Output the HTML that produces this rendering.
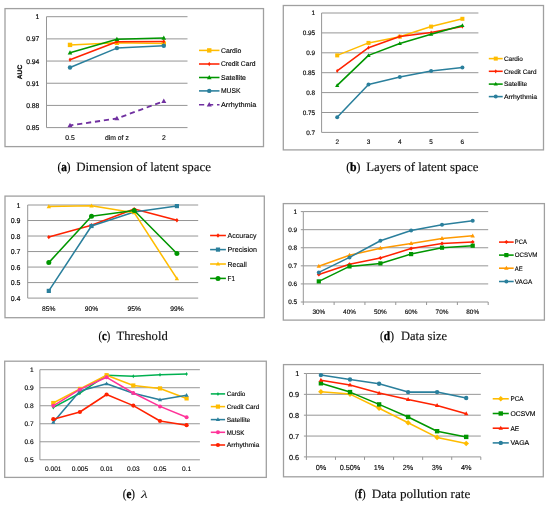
<!DOCTYPE html>
<html><head><meta charset="utf-8"><style>
html,body{margin:0;padding:0;background:#fff;}
svg{display:block;will-change:transform;text-rendering:geometricPrecision;}
#w{width:550px;height:505px;}
</style></head><body>
<div id="w"><svg width="550" height="505" viewBox="0 0 550 505">
<rect x="0" y="0" width="550" height="505" fill="#fff"/>
<g>
<rect x="5" y="8.6" width="258.5" height="138" fill="none" stroke="#A0A0A0" stroke-width="1.3"/>
<line x1="46.5" y1="16.7" x2="187.5" y2="16.7" stroke="#969696" stroke-width="1"/>
<text x="39.4" y="19.15" font-size="6.8" text-anchor="end" fill="#000" stroke="#000" stroke-width="0.15" font-family='"Liberation Sans", sans-serif'>1</text>
<line x1="46.5" y1="38.88" x2="187.5" y2="38.88" stroke="#969696" stroke-width="1"/>
<text x="39.4" y="41.33" font-size="6.8" text-anchor="end" fill="#000" stroke="#000" stroke-width="0.15" font-family='"Liberation Sans", sans-serif'>0.97</text>
<line x1="46.5" y1="61.06" x2="187.5" y2="61.06" stroke="#969696" stroke-width="1"/>
<text x="39.4" y="63.51" font-size="6.8" text-anchor="end" fill="#000" stroke="#000" stroke-width="0.15" font-family='"Liberation Sans", sans-serif'>0.94</text>
<line x1="46.5" y1="83.24" x2="187.5" y2="83.24" stroke="#969696" stroke-width="1"/>
<text x="39.4" y="85.69" font-size="6.8" text-anchor="end" fill="#000" stroke="#000" stroke-width="0.15" font-family='"Liberation Sans", sans-serif'>0.91</text>
<line x1="46.5" y1="105.42" x2="187.5" y2="105.42" stroke="#969696" stroke-width="1"/>
<text x="39.4" y="107.87" font-size="6.8" text-anchor="end" fill="#000" stroke="#000" stroke-width="0.15" font-family='"Liberation Sans", sans-serif'>0.88</text>
<text x="39.4" y="130.05" font-size="6.8" text-anchor="end" fill="#000" stroke="#000" stroke-width="0.15" font-family='"Liberation Sans", sans-serif'>0.85</text>
<line x1="46.5" y1="16.7" x2="46.5" y2="127.6" stroke="#969696" stroke-width="1"/>
<line x1="46.5" y1="127.6" x2="187.5" y2="127.6" stroke="#969696" stroke-width="1"/>
<text x="70" y="140.05" font-size="6.8" text-anchor="middle" fill="#000" stroke="#000" stroke-width="0.12" font-family='"Liberation Sans", sans-serif'>0.5</text>
<text x="116.9" y="140.05" font-size="6.8" text-anchor="middle" fill="#000" stroke="#000" stroke-width="0.12" font-family='"Liberation Sans", sans-serif'>dim of z</text>
<text x="163.8" y="140.05" font-size="6.8" text-anchor="middle" fill="#000" stroke="#000" stroke-width="0.12" font-family='"Liberation Sans", sans-serif'>2</text>
<text x="0" y="0" font-size="6.6" font-weight="bold" text-anchor="middle" stroke="#000" stroke-width="0.2" fill="#000" font-family='"Liberation Sans", sans-serif' transform="translate(22 72) rotate(-90)">AUC</text>
<polyline points="70,44.9 116.9,42.8 163.8,43.6" fill="none" stroke="#FFBC00" stroke-width="1.55" stroke-linejoin="round"/>
<rect x="67.8" y="42.7" width="4.4" height="4.4" fill="#FFBC00"/>
<rect x="114.7" y="40.6" width="4.4" height="4.4" fill="#FFBC00"/>
<rect x="161.6" y="41.4" width="4.4" height="4.4" fill="#FFBC00"/>
<polyline points="70,59.8 116.9,41.8 163.8,41.4" fill="none" stroke="#FF2200" stroke-width="1.55" stroke-linejoin="round"/>
<path d="M70 57.5L71.38 59.8L70 62.1L68.62 59.8Z" fill="#FF2200"/>
<path d="M116.9 39.5L118.28 41.8L116.9 44.1L115.52 41.8Z" fill="#FF2200"/>
<path d="M163.8 39.1L165.18 41.4L163.8 43.7L162.42 41.4Z" fill="#FF2200"/>
<polyline points="70,52.8 116.9,39.3 163.8,38.1" fill="none" stroke="#009600" stroke-width="1.55" stroke-linejoin="round"/>
<path d="M70 50.32L72.3 54.46L67.7 54.46Z" fill="#009600"/>
<path d="M116.9 36.82L119.2 40.96L114.6 40.96Z" fill="#009600"/>
<path d="M163.8 35.62L166.1 39.76L161.5 39.76Z" fill="#009600"/>
<polyline points="70,67.5 116.9,48.1 163.8,45.7" fill="none" stroke="#2A7F9C" stroke-width="1.55" stroke-linejoin="round"/>
<circle cx="70" cy="67.5" r="2.2" fill="#2A7F9C"/>
<circle cx="116.9" cy="48.1" r="2.2" fill="#2A7F9C"/>
<circle cx="163.8" cy="45.7" r="2.2" fill="#2A7F9C"/>
<polyline points="70,125.4 116.9,118.5 163.8,101.2" fill="none" stroke="#7030A0" stroke-width="1.85" stroke-linejoin="round" stroke-dasharray="5.2,3.8" stroke-dashoffset="1.8"/>
<path d="M70 122.7L72.5 127.2L67.5 127.2Z" fill="#7030A0"/>
<path d="M116.9 115.8L119.4 120.3L114.4 120.3Z" fill="#7030A0"/>
<path d="M163.8 98.5L166.3 103L161.3 103Z" fill="#7030A0"/>
<line x1="199" y1="50.4" x2="219.5" y2="50.4" stroke="#FFBC00" stroke-width="1.55"/>
<rect x="207.05" y="48.2" width="4.4" height="4.4" fill="#FFBC00"/>
<text x="221" y="52.85" font-size="6.8" text-anchor="start" fill="#000" stroke="#000" stroke-width="0.12" font-family='"Liberation Sans", sans-serif' textLength="20.3" lengthAdjust="spacingAndGlyphs">Cardio</text>
<line x1="199" y1="64" x2="219.5" y2="64" stroke="#FF2200" stroke-width="1.55"/>
<path d="M209.25 61.7L210.63 64L209.25 66.3L207.87 64Z" fill="#FF2200"/>
<text x="221" y="66.45" font-size="6.8" text-anchor="start" fill="#000" stroke="#000" stroke-width="0.12" font-family='"Liberation Sans", sans-serif' textLength="34.5" lengthAdjust="spacingAndGlyphs">Credit Card</text>
<line x1="199" y1="77.5" x2="219.5" y2="77.5" stroke="#009600" stroke-width="1.55"/>
<path d="M209.25 75.02L211.55 79.16L206.95 79.16Z" fill="#009600"/>
<text x="221" y="79.95" font-size="6.8" text-anchor="start" fill="#000" stroke="#000" stroke-width="0.12" font-family='"Liberation Sans", sans-serif' textLength="25" lengthAdjust="spacingAndGlyphs">Satellite</text>
<line x1="199" y1="90.9" x2="219.5" y2="90.9" stroke="#2A7F9C" stroke-width="1.55"/>
<circle cx="209.25" cy="90.9" r="2.2" fill="#2A7F9C"/>
<text x="221" y="93.35" font-size="6.8" text-anchor="start" fill="#000" stroke="#000" stroke-width="0.12" font-family='"Liberation Sans", sans-serif' textLength="19.5" lengthAdjust="spacingAndGlyphs">MUSK</text>
<line x1="199" y1="104.7" x2="219.5" y2="104.7" stroke="#7030A0" stroke-width="1.55" stroke-dasharray="5.2,3.8"/>
<path d="M209.25 102L211.75 106.5L206.75 106.5Z" fill="#7030A0"/>
<text x="221" y="107.15" font-size="6.8" text-anchor="start" fill="#000" stroke="#000" stroke-width="0.12" font-family='"Liberation Sans", sans-serif' textLength="35.3" lengthAdjust="spacingAndGlyphs">Arrhythmia</text>
<text x="57.4" y="170.8" font-size="12.8" fill="#000" stroke="#000" stroke-width="0.15" font-family='"Liberation Serif", serif' textLength="13.1" lengthAdjust="spacingAndGlyphs">(<tspan font-weight="bold" stroke-width="0.35">a</tspan>)</text>
<text x="76.2" y="170.8" font-size="12.8" fill="#111" stroke="#111" stroke-width="0.15" font-family='"Liberation Serif", serif' textLength="134.7" lengthAdjust="spacingAndGlyphs">Dimension of latent space</text>
<rect x="283.3" y="5.5" width="260.2" height="144.4" fill="none" stroke="#A0A0A0" stroke-width="1.3"/>
<line x1="321.6" y1="13" x2="478.4" y2="13" stroke="#969696" stroke-width="1"/>
<text x="315.1" y="15.3" font-size="6.4" text-anchor="end" fill="#000" stroke="#000" stroke-width="0.15" font-family='"Liberation Sans", sans-serif'>1</text>
<line x1="321.6" y1="32.9" x2="478.4" y2="32.9" stroke="#969696" stroke-width="1"/>
<text x="315.1" y="35.2" font-size="6.4" text-anchor="end" fill="#000" stroke="#000" stroke-width="0.15" font-family='"Liberation Sans", sans-serif'>0.95</text>
<line x1="321.6" y1="52.8" x2="478.4" y2="52.8" stroke="#969696" stroke-width="1"/>
<text x="315.1" y="55.1" font-size="6.4" text-anchor="end" fill="#000" stroke="#000" stroke-width="0.15" font-family='"Liberation Sans", sans-serif'>0.9</text>
<line x1="321.6" y1="72.7" x2="478.4" y2="72.7" stroke="#969696" stroke-width="1"/>
<text x="315.1" y="75" font-size="6.4" text-anchor="end" fill="#000" stroke="#000" stroke-width="0.15" font-family='"Liberation Sans", sans-serif'>0.85</text>
<line x1="321.6" y1="92.6" x2="478.4" y2="92.6" stroke="#969696" stroke-width="1"/>
<text x="315.1" y="94.9" font-size="6.4" text-anchor="end" fill="#000" stroke="#000" stroke-width="0.15" font-family='"Liberation Sans", sans-serif'>0.8</text>
<line x1="321.6" y1="112.5" x2="478.4" y2="112.5" stroke="#969696" stroke-width="1"/>
<text x="315.1" y="114.8" font-size="6.4" text-anchor="end" fill="#000" stroke="#000" stroke-width="0.15" font-family='"Liberation Sans", sans-serif'>0.75</text>
<text x="315.1" y="134.7" font-size="6.4" text-anchor="end" fill="#000" stroke="#000" stroke-width="0.15" font-family='"Liberation Sans", sans-serif'>0.7</text>
<line x1="321.6" y1="13" x2="321.6" y2="132.4" stroke="#969696" stroke-width="1"/>
<line x1="321.6" y1="132.4" x2="478.4" y2="132.4" stroke="#969696" stroke-width="1"/>
<text x="337.2" y="143.8" font-size="6.4" text-anchor="middle" fill="#000" stroke="#000" stroke-width="0.12" font-family='"Liberation Sans", sans-serif'>2</text>
<text x="368.5" y="143.8" font-size="6.4" text-anchor="middle" fill="#000" stroke="#000" stroke-width="0.12" font-family='"Liberation Sans", sans-serif'>3</text>
<text x="399.8" y="143.8" font-size="6.4" text-anchor="middle" fill="#000" stroke="#000" stroke-width="0.12" font-family='"Liberation Sans", sans-serif'>4</text>
<text x="431.1" y="143.8" font-size="6.4" text-anchor="middle" fill="#000" stroke="#000" stroke-width="0.12" font-family='"Liberation Sans", sans-serif'>5</text>
<text x="462.4" y="143.8" font-size="6.4" text-anchor="middle" fill="#000" stroke="#000" stroke-width="0.12" font-family='"Liberation Sans", sans-serif'>6</text>
<polyline points="337.2,55.4 368.5,42.9 399.8,36.7 431.1,26.6 462.4,18.8" fill="none" stroke="#FFBC00" stroke-width="1.55" stroke-linejoin="round"/>
<rect x="335.2" y="53.4" width="4" height="4" fill="#FFBC00"/>
<rect x="366.5" y="40.9" width="4" height="4" fill="#FFBC00"/>
<rect x="397.8" y="34.7" width="4" height="4" fill="#FFBC00"/>
<rect x="429.1" y="24.6" width="4" height="4" fill="#FFBC00"/>
<rect x="460.4" y="16.8" width="4" height="4" fill="#FFBC00"/>
<polyline points="337.2,70.9 368.5,47.7 399.8,36.4 431.1,32.5 462.4,26.6" fill="none" stroke="#FF2200" stroke-width="1.55" stroke-linejoin="round"/>
<path d="M337.2 68.8L338.46 70.9L337.2 73L335.94 70.9Z" fill="#FF2200"/>
<path d="M368.5 45.6L369.76 47.7L368.5 49.8L367.24 47.7Z" fill="#FF2200"/>
<path d="M399.8 34.3L401.06 36.4L399.8 38.5L398.54 36.4Z" fill="#FF2200"/>
<path d="M431.1 30.4L432.36 32.5L431.1 34.6L429.84 32.5Z" fill="#FF2200"/>
<path d="M462.4 24.5L463.66 26.6L462.4 28.7L461.14 26.6Z" fill="#FF2200"/>
<polyline points="337.2,85.4 368.5,55.4 399.8,43.5 431.1,34.3 462.4,25.4" fill="none" stroke="#009600" stroke-width="1.55" stroke-linejoin="round"/>
<path d="M337.2 83.13L339.3 86.91L335.1 86.91Z" fill="#009600"/>
<path d="M368.5 53.13L370.6 56.91L366.4 56.91Z" fill="#009600"/>
<path d="M399.8 41.23L401.9 45.01L397.7 45.01Z" fill="#009600"/>
<path d="M431.1 32.03L433.2 35.81L429 35.81Z" fill="#009600"/>
<path d="M462.4 23.13L464.5 26.91L460.3 26.91Z" fill="#009600"/>
<polyline points="337.2,117.2 368.5,84.5 399.8,77.1 431.1,70.9 462.4,67.6" fill="none" stroke="#2A7F9C" stroke-width="1.55" stroke-linejoin="round"/>
<circle cx="337.2" cy="117.2" r="2" fill="#2A7F9C"/>
<circle cx="368.5" cy="84.5" r="2" fill="#2A7F9C"/>
<circle cx="399.8" cy="77.1" r="2" fill="#2A7F9C"/>
<circle cx="431.1" cy="70.9" r="2" fill="#2A7F9C"/>
<circle cx="462.4" cy="67.6" r="2" fill="#2A7F9C"/>
<line x1="488.8" y1="58.6" x2="502.7" y2="58.6" stroke="#FFBC00" stroke-width="1.55"/>
<rect x="493.75" y="56.6" width="4" height="4" fill="#FFBC00"/>
<text x="503.9" y="60.9" font-size="6.4" text-anchor="start" fill="#000" stroke="#000" stroke-width="0.12" font-family='"Liberation Sans", sans-serif' textLength="19" lengthAdjust="spacingAndGlyphs">Cardio</text>
<line x1="488.8" y1="71.3" x2="502.7" y2="71.3" stroke="#FF2200" stroke-width="1.55"/>
<path d="M495.75 69.2L497.01 71.3L495.75 73.4L494.49 71.3Z" fill="#FF2200"/>
<text x="503.9" y="73.6" font-size="6.4" text-anchor="start" fill="#000" stroke="#000" stroke-width="0.12" font-family='"Liberation Sans", sans-serif' textLength="32.6" lengthAdjust="spacingAndGlyphs">Credit Card</text>
<line x1="488.8" y1="84.1" x2="502.7" y2="84.1" stroke="#009600" stroke-width="1.55"/>
<path d="M495.75 81.83L497.85 85.61L493.65 85.61Z" fill="#009600"/>
<text x="503.9" y="86.4" font-size="6.4" text-anchor="start" fill="#000" stroke="#000" stroke-width="0.12" font-family='"Liberation Sans", sans-serif' textLength="23.4" lengthAdjust="spacingAndGlyphs">Satellite</text>
<line x1="488.8" y1="96.6" x2="502.7" y2="96.6" stroke="#2A7F9C" stroke-width="1.55"/>
<circle cx="495.75" cy="96.6" r="2" fill="#2A7F9C"/>
<text x="503.9" y="98.9" font-size="6.4" text-anchor="start" fill="#000" stroke="#000" stroke-width="0.12" font-family='"Liberation Sans", sans-serif' textLength="33.2" lengthAdjust="spacingAndGlyphs">Arrhythmia</text>
<text x="346.2" y="171.2" font-size="12.8" fill="#000" stroke="#000" stroke-width="0.15" font-family='"Liberation Serif", serif' textLength="14.3" lengthAdjust="spacingAndGlyphs">(<tspan font-weight="bold" stroke-width="0.35">b</tspan>)</text>
<text x="366.2" y="171.2" font-size="12.8" fill="#111" stroke="#111" stroke-width="0.15" font-family='"Liberation Serif", serif' textLength="112.2" lengthAdjust="spacingAndGlyphs">Layers of latent space</text>
<rect x="5" y="196.1" width="259.3" height="121.6" fill="none" stroke="#A0A0A0" stroke-width="1.3"/>
<line x1="27.7" y1="205" x2="198.2" y2="205" stroke="#969696" stroke-width="1"/>
<text x="20.4" y="207.52" font-size="7" text-anchor="end" fill="#000" stroke="#000" stroke-width="0.15" font-family='"Liberation Sans", sans-serif'>1</text>
<line x1="27.7" y1="220.52" x2="198.2" y2="220.52" stroke="#969696" stroke-width="1"/>
<text x="20.4" y="223.04" font-size="7" text-anchor="end" fill="#000" stroke="#000" stroke-width="0.15" font-family='"Liberation Sans", sans-serif'>0.9</text>
<line x1="27.7" y1="236.03" x2="198.2" y2="236.03" stroke="#969696" stroke-width="1"/>
<text x="20.4" y="238.55" font-size="7" text-anchor="end" fill="#000" stroke="#000" stroke-width="0.15" font-family='"Liberation Sans", sans-serif'>0.8</text>
<line x1="27.7" y1="251.55" x2="198.2" y2="251.55" stroke="#969696" stroke-width="1"/>
<text x="20.4" y="254.07" font-size="7" text-anchor="end" fill="#000" stroke="#000" stroke-width="0.15" font-family='"Liberation Sans", sans-serif'>0.7</text>
<line x1="27.7" y1="267.07" x2="198.2" y2="267.07" stroke="#969696" stroke-width="1"/>
<text x="20.4" y="269.59" font-size="7" text-anchor="end" fill="#000" stroke="#000" stroke-width="0.15" font-family='"Liberation Sans", sans-serif'>0.6</text>
<line x1="27.7" y1="282.58" x2="198.2" y2="282.58" stroke="#969696" stroke-width="1"/>
<text x="20.4" y="285.1" font-size="7" text-anchor="end" fill="#000" stroke="#000" stroke-width="0.15" font-family='"Liberation Sans", sans-serif'>0.5</text>
<text x="20.4" y="300.62" font-size="7" text-anchor="end" fill="#000" stroke="#000" stroke-width="0.15" font-family='"Liberation Sans", sans-serif'>0.4</text>
<line x1="27.7" y1="205" x2="27.7" y2="298.1" stroke="#969696" stroke-width="1"/>
<line x1="27.7" y1="298.1" x2="198.2" y2="298.1" stroke="#969696" stroke-width="1"/>
<text x="48.8" y="310.81" font-size="6.7" text-anchor="middle" fill="#000" stroke="#000" stroke-width="0.12" font-family='"Liberation Sans", sans-serif'>85%</text>
<text x="91.5" y="310.81" font-size="6.7" text-anchor="middle" fill="#000" stroke="#000" stroke-width="0.12" font-family='"Liberation Sans", sans-serif'>90%</text>
<text x="134.2" y="310.81" font-size="6.7" text-anchor="middle" fill="#000" stroke="#000" stroke-width="0.12" font-family='"Liberation Sans", sans-serif'>95%</text>
<text x="176.9" y="310.81" font-size="6.7" text-anchor="middle" fill="#000" stroke="#000" stroke-width="0.12" font-family='"Liberation Sans", sans-serif'>99%</text>
<polyline points="48.8,237.1 91.5,225.2 134.2,209.1 176.9,220.2" fill="none" stroke="#FF2200" stroke-width="1.55" stroke-linejoin="round"/>
<path d="M48.8 234.9L50.56 237.1L48.8 239.3L47.04 237.1Z" fill="#FF2200"/>
<path d="M91.5 223L93.26 225.2L91.5 227.4L89.74 225.2Z" fill="#FF2200"/>
<path d="M134.2 206.9L135.96 209.1L134.2 211.3L132.44 209.1Z" fill="#FF2200"/>
<path d="M176.9 218L178.66 220.2L176.9 222.4L175.14 220.2Z" fill="#FF2200"/>
<polyline points="48.8,290.9 91.5,226 134.2,211.9 176.9,206.1" fill="none" stroke="#2A7F9C" stroke-width="1.55" stroke-linejoin="round"/>
<rect x="46.7" y="288.8" width="4.2" height="4.2" fill="#2A7F9C"/>
<rect x="89.4" y="223.9" width="4.2" height="4.2" fill="#2A7F9C"/>
<rect x="132.1" y="209.8" width="4.2" height="4.2" fill="#2A7F9C"/>
<rect x="174.8" y="204" width="4.2" height="4.2" fill="#2A7F9C"/>
<polyline points="48.8,206.6 91.5,205.8 134.2,212.7 176.9,278.7" fill="none" stroke="#FFBC00" stroke-width="1.55" stroke-linejoin="round"/>
<path d="M48.8 204.22L51 208.18L46.6 208.18Z" fill="#FFBC00"/>
<path d="M91.5 203.42L93.7 207.38L89.3 207.38Z" fill="#FFBC00"/>
<path d="M134.2 210.32L136.4 214.28L132 214.28Z" fill="#FFBC00"/>
<path d="M176.9 276.32L179.1 280.28L174.7 280.28Z" fill="#FFBC00"/>
<polyline points="48.8,262.6 91.5,216.3 134.2,210.5 176.9,253.5" fill="none" stroke="#009600" stroke-width="1.55" stroke-linejoin="round"/>
<circle cx="48.8" cy="262.6" r="2.5" fill="#009600"/>
<circle cx="91.5" cy="216.3" r="2.5" fill="#009600"/>
<circle cx="134.2" cy="210.5" r="2.5" fill="#009600"/>
<circle cx="176.9" cy="253.5" r="2.5" fill="#009600"/>
<line x1="210.1" y1="235.5" x2="225.9" y2="235.5" stroke="#FF2200" stroke-width="1.55"/>
<path d="M218 233.3L219.76 235.5L218 237.7L216.24 235.5Z" fill="#FF2200"/>
<text x="227.6" y="238.09" font-size="7.2" text-anchor="start" fill="#000" stroke="#000" stroke-width="0.12" font-family='"Liberation Sans", sans-serif' textLength="28.8" lengthAdjust="spacingAndGlyphs">Accuracy</text>
<line x1="210.1" y1="249.6" x2="225.9" y2="249.6" stroke="#2A7F9C" stroke-width="1.55"/>
<rect x="215.9" y="247.5" width="4.2" height="4.2" fill="#2A7F9C"/>
<text x="227.6" y="252.19" font-size="7.2" text-anchor="start" fill="#000" stroke="#000" stroke-width="0.12" font-family='"Liberation Sans", sans-serif' textLength="29.3" lengthAdjust="spacingAndGlyphs">Precision</text>
<line x1="210.1" y1="264" x2="225.9" y2="264" stroke="#FFBC00" stroke-width="1.55"/>
<path d="M218 261.62L220.2 265.58L215.8 265.58Z" fill="#FFBC00"/>
<text x="227.6" y="266.59" font-size="7.2" text-anchor="start" fill="#000" stroke="#000" stroke-width="0.12" font-family='"Liberation Sans", sans-serif' textLength="19.1" lengthAdjust="spacingAndGlyphs">Recall</text>
<line x1="210.1" y1="278.4" x2="225.9" y2="278.4" stroke="#009600" stroke-width="1.55"/>
<circle cx="218" cy="278.4" r="2.5" fill="#009600"/>
<text x="227.6" y="280.99" font-size="7.2" text-anchor="start" fill="#000" stroke="#000" stroke-width="0.12" font-family='"Liberation Sans", sans-serif' textLength="7.4" lengthAdjust="spacingAndGlyphs">F1</text>
<text x="98.6" y="340.1" font-size="12.8" fill="#000" stroke="#000" stroke-width="0.15" font-family='"Liberation Serif", serif' textLength="11.7" lengthAdjust="spacingAndGlyphs">(<tspan font-weight="bold" stroke-width="0.35">c</tspan>)</text>
<text x="116.5" y="340.1" font-size="12.8" fill="#111" stroke="#111" stroke-width="0.15" font-family='"Liberation Serif", serif' textLength="51.2" lengthAdjust="spacingAndGlyphs">Threshold</text>
<rect x="283.3" y="203.6" width="261.1" height="116.5" fill="none" stroke="#A0A0A0" stroke-width="1.3"/>
<line x1="303.3" y1="211.6" x2="488.2" y2="211.6" stroke="#969696" stroke-width="1"/>
<text x="297.1" y="213.9" font-size="6.4" text-anchor="end" fill="#000" stroke="#000" stroke-width="0.15" font-family='"Liberation Sans", sans-serif'>1</text>
<line x1="300.8" y1="211.6" x2="303.3" y2="211.6" stroke="#969696" stroke-width="1"/>
<line x1="303.3" y1="229.68" x2="488.2" y2="229.68" stroke="#969696" stroke-width="1"/>
<text x="297.1" y="231.98" font-size="6.4" text-anchor="end" fill="#000" stroke="#000" stroke-width="0.15" font-family='"Liberation Sans", sans-serif'>0.9</text>
<line x1="300.8" y1="229.68" x2="303.3" y2="229.68" stroke="#969696" stroke-width="1"/>
<line x1="303.3" y1="247.76" x2="488.2" y2="247.76" stroke="#969696" stroke-width="1"/>
<text x="297.1" y="250.06" font-size="6.4" text-anchor="end" fill="#000" stroke="#000" stroke-width="0.15" font-family='"Liberation Sans", sans-serif'>0.8</text>
<line x1="300.8" y1="247.76" x2="303.3" y2="247.76" stroke="#969696" stroke-width="1"/>
<line x1="303.3" y1="265.84" x2="488.2" y2="265.84" stroke="#969696" stroke-width="1"/>
<text x="297.1" y="268.14" font-size="6.4" text-anchor="end" fill="#000" stroke="#000" stroke-width="0.15" font-family='"Liberation Sans", sans-serif'>0.7</text>
<line x1="300.8" y1="265.84" x2="303.3" y2="265.84" stroke="#969696" stroke-width="1"/>
<line x1="303.3" y1="283.92" x2="488.2" y2="283.92" stroke="#969696" stroke-width="1"/>
<text x="297.1" y="286.22" font-size="6.4" text-anchor="end" fill="#000" stroke="#000" stroke-width="0.15" font-family='"Liberation Sans", sans-serif'>0.6</text>
<line x1="300.8" y1="283.92" x2="303.3" y2="283.92" stroke="#969696" stroke-width="1"/>
<text x="297.1" y="304.3" font-size="6.4" text-anchor="end" fill="#000" stroke="#000" stroke-width="0.15" font-family='"Liberation Sans", sans-serif'>0.5</text>
<line x1="300.8" y1="302" x2="303.3" y2="302" stroke="#969696" stroke-width="1"/>
<line x1="303.3" y1="211.6" x2="303.3" y2="302" stroke="#969696" stroke-width="1"/>
<line x1="303.3" y1="302" x2="488.2" y2="302" stroke="#969696" stroke-width="1"/>
<line x1="303.3" y1="302" x2="303.3" y2="305" stroke="#969696" stroke-width="1"/>
<line x1="334.12" y1="302" x2="334.12" y2="305" stroke="#969696" stroke-width="1"/>
<line x1="364.93" y1="302" x2="364.93" y2="305" stroke="#969696" stroke-width="1"/>
<line x1="395.75" y1="302" x2="395.75" y2="305" stroke="#969696" stroke-width="1"/>
<line x1="426.57" y1="302" x2="426.57" y2="305" stroke="#969696" stroke-width="1"/>
<line x1="457.38" y1="302" x2="457.38" y2="305" stroke="#969696" stroke-width="1"/>
<line x1="488.2" y1="302" x2="488.2" y2="305" stroke="#969696" stroke-width="1"/>
<text x="318.8" y="314.3" font-size="6.4" text-anchor="middle" fill="#000" stroke="#000" stroke-width="0.12" font-family='"Liberation Sans", sans-serif'>30%</text>
<text x="349.5" y="314.3" font-size="6.4" text-anchor="middle" fill="#000" stroke="#000" stroke-width="0.12" font-family='"Liberation Sans", sans-serif'>40%</text>
<text x="380.4" y="314.3" font-size="6.4" text-anchor="middle" fill="#000" stroke="#000" stroke-width="0.12" font-family='"Liberation Sans", sans-serif'>50%</text>
<text x="411.1" y="314.3" font-size="6.4" text-anchor="middle" fill="#000" stroke="#000" stroke-width="0.12" font-family='"Liberation Sans", sans-serif'>60%</text>
<text x="442" y="314.3" font-size="6.4" text-anchor="middle" fill="#000" stroke="#000" stroke-width="0.12" font-family='"Liberation Sans", sans-serif'>70%</text>
<text x="472.7" y="314.3" font-size="6.4" text-anchor="middle" fill="#000" stroke="#000" stroke-width="0.12" font-family='"Liberation Sans", sans-serif'>80%</text>
<polyline points="318.8,274.6 349.5,264.2 380.4,258.1 411.1,248.4 442,243.4 472.7,242.1" fill="none" stroke="#FF2200" stroke-width="1.55" stroke-linejoin="round"/>
<path d="M318.8 272.6L320.8 274.6L318.8 276.6L316.8 274.6Z" fill="#FF2200"/>
<path d="M349.5 262.2L351.5 264.2L349.5 266.2L347.5 264.2Z" fill="#FF2200"/>
<path d="M380.4 256.1L382.4 258.1L380.4 260.1L378.4 258.1Z" fill="#FF2200"/>
<path d="M411.1 246.4L413.1 248.4L411.1 250.4L409.1 248.4Z" fill="#FF2200"/>
<path d="M442 241.4L444 243.4L442 245.4L440 243.4Z" fill="#FF2200"/>
<path d="M472.7 240.1L474.7 242.1L472.7 244.1L470.7 242.1Z" fill="#FF2200"/>
<polyline points="318.8,281.4 349.5,266.4 380.4,263.4 411.1,254.1 442,247.7 472.7,245.7" fill="none" stroke="#009600" stroke-width="1.55" stroke-linejoin="round"/>
<rect x="316.7" y="279.3" width="4.2" height="4.2" fill="#009600"/>
<rect x="347.4" y="264.3" width="4.2" height="4.2" fill="#009600"/>
<rect x="378.3" y="261.3" width="4.2" height="4.2" fill="#009600"/>
<rect x="409" y="252" width="4.2" height="4.2" fill="#009600"/>
<rect x="439.9" y="245.6" width="4.2" height="4.2" fill="#009600"/>
<rect x="470.6" y="243.6" width="4.2" height="4.2" fill="#009600"/>
<polyline points="318.8,266.2 349.5,255.2 380.4,248.2 411.1,243.4 442,238.4 472.7,235.8" fill="none" stroke="#FF9900" stroke-width="1.55" stroke-linejoin="round"/>
<path d="M318.8 263.82L321 267.78L316.6 267.78Z" fill="#FF9900"/>
<path d="M349.5 252.82L351.7 256.78L347.3 256.78Z" fill="#FF9900"/>
<path d="M380.4 245.82L382.6 249.78L378.2 249.78Z" fill="#FF9900"/>
<path d="M411.1 241.02L413.3 244.98L408.9 244.98Z" fill="#FF9900"/>
<path d="M442 236.02L444.2 239.98L439.8 239.98Z" fill="#FF9900"/>
<path d="M472.7 233.42L474.9 237.38L470.5 237.38Z" fill="#FF9900"/>
<polyline points="318.8,272.4 349.5,257.4 380.4,240.7 411.1,230.4 442,224.7 472.7,220.8" fill="none" stroke="#2A7F9C" stroke-width="1.55" stroke-linejoin="round"/>
<circle cx="318.8" cy="272.4" r="2" fill="#2A7F9C"/>
<circle cx="349.5" cy="257.4" r="2" fill="#2A7F9C"/>
<circle cx="380.4" cy="240.7" r="2" fill="#2A7F9C"/>
<circle cx="411.1" cy="230.4" r="2" fill="#2A7F9C"/>
<circle cx="442" cy="224.7" r="2" fill="#2A7F9C"/>
<circle cx="472.7" cy="220.8" r="2" fill="#2A7F9C"/>
<line x1="499" y1="242.1" x2="513.7" y2="242.1" stroke="#FF2200" stroke-width="1.55"/>
<path d="M506.35 240.1L508.35 242.1L506.35 244.1L504.35 242.1Z" fill="#FF2200"/>
<text x="514.8" y="244.4" font-size="6.4" text-anchor="start" fill="#000" stroke="#000" stroke-width="0.12" font-family='"Liberation Sans", sans-serif' textLength="12" lengthAdjust="spacingAndGlyphs">PCA</text>
<line x1="499" y1="255.1" x2="513.7" y2="255.1" stroke="#009600" stroke-width="1.55"/>
<rect x="504.25" y="253" width="4.2" height="4.2" fill="#009600"/>
<text x="514.8" y="257.4" font-size="6.4" text-anchor="start" fill="#000" stroke="#000" stroke-width="0.12" font-family='"Liberation Sans", sans-serif' textLength="22.7" lengthAdjust="spacingAndGlyphs">OCSVM</text>
<line x1="499" y1="268.2" x2="513.7" y2="268.2" stroke="#FF9900" stroke-width="1.55"/>
<path d="M506.35 265.82L508.55 269.78L504.15 269.78Z" fill="#FF9900"/>
<text x="514.8" y="270.5" font-size="6.4" text-anchor="start" fill="#000" stroke="#000" stroke-width="0.12" font-family='"Liberation Sans", sans-serif' textLength="7.9" lengthAdjust="spacingAndGlyphs">AE</text>
<line x1="499" y1="281.5" x2="513.7" y2="281.5" stroke="#2A7F9C" stroke-width="1.55"/>
<circle cx="506.35" cy="281.5" r="2" fill="#2A7F9C"/>
<text x="514.8" y="283.8" font-size="6.4" text-anchor="start" fill="#000" stroke="#000" stroke-width="0.12" font-family='"Liberation Sans", sans-serif' textLength="17.4" lengthAdjust="spacingAndGlyphs">VAGA</text>
<text x="380.1" y="340.3" font-size="12.8" fill="#000" stroke="#000" stroke-width="0.15" font-family='"Liberation Serif", serif' textLength="13.8" lengthAdjust="spacingAndGlyphs">(<tspan font-weight="bold" stroke-width="0.35">d</tspan>)</text>
<text x="400.9" y="340.3" font-size="12.8" fill="#111" stroke="#111" stroke-width="0.15" font-family='"Liberation Serif", serif' textLength="46.1" lengthAdjust="spacingAndGlyphs">Data size</text>
<rect x="4.7" y="361.2" width="261.6" height="116.2" fill="none" stroke="#A0A0A0" stroke-width="1.3"/>
<line x1="39.9" y1="369.7" x2="199.9" y2="369.7" stroke="#969696" stroke-width="1"/>
<text x="33.6" y="372.08" font-size="6.6" text-anchor="end" fill="#000" stroke="#000" stroke-width="0.15" font-family='"Liberation Sans", sans-serif'>1</text>
<line x1="39.9" y1="387.72" x2="199.9" y2="387.72" stroke="#969696" stroke-width="1"/>
<text x="33.6" y="390.1" font-size="6.6" text-anchor="end" fill="#000" stroke="#000" stroke-width="0.15" font-family='"Liberation Sans", sans-serif'>0.9</text>
<line x1="39.9" y1="405.74" x2="199.9" y2="405.74" stroke="#969696" stroke-width="1"/>
<text x="33.6" y="408.12" font-size="6.6" text-anchor="end" fill="#000" stroke="#000" stroke-width="0.15" font-family='"Liberation Sans", sans-serif'>0.8</text>
<line x1="39.9" y1="423.76" x2="199.9" y2="423.76" stroke="#969696" stroke-width="1"/>
<text x="33.6" y="426.14" font-size="6.6" text-anchor="end" fill="#000" stroke="#000" stroke-width="0.15" font-family='"Liberation Sans", sans-serif'>0.7</text>
<line x1="39.9" y1="441.78" x2="199.9" y2="441.78" stroke="#969696" stroke-width="1"/>
<text x="33.6" y="444.16" font-size="6.6" text-anchor="end" fill="#000" stroke="#000" stroke-width="0.15" font-family='"Liberation Sans", sans-serif'>0.6</text>
<text x="33.6" y="462.18" font-size="6.6" text-anchor="end" fill="#000" stroke="#000" stroke-width="0.15" font-family='"Liberation Sans", sans-serif'>0.5</text>
<line x1="39.9" y1="369.7" x2="39.9" y2="459.8" stroke="#969696" stroke-width="1"/>
<line x1="39.9" y1="459.8" x2="199.9" y2="459.8" stroke="#969696" stroke-width="1"/>
<text x="53.3" y="470.88" font-size="6.6" text-anchor="middle" fill="#000" stroke="#000" stroke-width="0.12" font-family='"Liberation Sans", sans-serif'>0.001</text>
<text x="79.9" y="470.88" font-size="6.6" text-anchor="middle" fill="#000" stroke="#000" stroke-width="0.12" font-family='"Liberation Sans", sans-serif'>0.005</text>
<text x="106.6" y="470.88" font-size="6.6" text-anchor="middle" fill="#000" stroke="#000" stroke-width="0.12" font-family='"Liberation Sans", sans-serif'>0.01</text>
<text x="133.3" y="470.88" font-size="6.6" text-anchor="middle" fill="#000" stroke="#000" stroke-width="0.12" font-family='"Liberation Sans", sans-serif'>0.03</text>
<text x="160" y="470.88" font-size="6.6" text-anchor="middle" fill="#000" stroke="#000" stroke-width="0.12" font-family='"Liberation Sans", sans-serif'>0.05</text>
<text x="186.6" y="470.88" font-size="6.6" text-anchor="middle" fill="#000" stroke="#000" stroke-width="0.12" font-family='"Liberation Sans", sans-serif'>0.1</text>
<polyline points="53.3,407.4 79.9,393.2 106.6,375.2 133.3,376.2 160,374.7 186.6,373.9" fill="none" stroke="#00B050" stroke-width="1.55" stroke-linejoin="round"/>
<path d="M53.3 405.4L54.5 407.4L53.3 409.4L52.1 407.4Z" fill="#00B050"/>
<path d="M79.9 391.2L81.1 393.2L79.9 395.2L78.7 393.2Z" fill="#00B050"/>
<path d="M106.6 373.2L107.8 375.2L106.6 377.2L105.4 375.2Z" fill="#00B050"/>
<path d="M133.3 374.2L134.5 376.2L133.3 378.2L132.1 376.2Z" fill="#00B050"/>
<path d="M160 372.7L161.2 374.7L160 376.7L158.8 374.7Z" fill="#00B050"/>
<path d="M186.6 371.9L187.8 373.9L186.6 375.9L185.4 373.9Z" fill="#00B050"/>
<polyline points="53.3,403 79.9,388.9 106.6,375.2 133.3,385.5 160,388.4 186.6,398.4" fill="none" stroke="#FFBC00" stroke-width="1.55" stroke-linejoin="round"/>
<rect x="51.2" y="400.9" width="4.2" height="4.2" fill="#FFBC00"/>
<rect x="77.8" y="386.8" width="4.2" height="4.2" fill="#FFBC00"/>
<rect x="104.5" y="373.1" width="4.2" height="4.2" fill="#FFBC00"/>
<rect x="131.2" y="383.4" width="4.2" height="4.2" fill="#FFBC00"/>
<rect x="157.9" y="386.3" width="4.2" height="4.2" fill="#FFBC00"/>
<rect x="184.5" y="396.3" width="4.2" height="4.2" fill="#FFBC00"/>
<polyline points="53.3,422.3 79.9,390.9 106.6,383.7 133.3,393.2 160,399.7 186.6,395.3" fill="none" stroke="#2A7F9C" stroke-width="1.55" stroke-linejoin="round"/>
<path d="M53.3 420.03L55.4 423.81L51.2 423.81Z" fill="#2A7F9C"/>
<path d="M79.9 388.63L82 392.41L77.8 392.41Z" fill="#2A7F9C"/>
<path d="M106.6 381.43L108.7 385.21L104.5 385.21Z" fill="#2A7F9C"/>
<path d="M133.3 390.93L135.4 394.71L131.2 394.71Z" fill="#2A7F9C"/>
<path d="M160 397.43L162.1 401.21L157.9 401.21Z" fill="#2A7F9C"/>
<path d="M186.6 393.03L188.7 396.81L184.5 396.81Z" fill="#2A7F9C"/>
<polyline points="53.3,405.8 79.9,389.4 106.6,377.3 133.3,393 160,406.4 186.6,417.2" fill="none" stroke="#FF3399" stroke-width="1.55" stroke-linejoin="round"/>
<circle cx="53.3" cy="405.8" r="2" fill="#FF3399"/>
<circle cx="79.9" cy="389.4" r="2" fill="#FF3399"/>
<circle cx="106.6" cy="377.3" r="2" fill="#FF3399"/>
<circle cx="133.3" cy="393" r="2" fill="#FF3399"/>
<circle cx="160" cy="406.4" r="2" fill="#FF3399"/>
<circle cx="186.6" cy="417.2" r="2" fill="#FF3399"/>
<polyline points="53.3,419.2 79.9,412 106.6,394.5 133.3,405.6 160,421 186.6,425.2" fill="none" stroke="#FF2200" stroke-width="1.55" stroke-linejoin="round"/>
<circle cx="53.3" cy="419.2" r="2.1" fill="#FF2200"/>
<circle cx="79.9" cy="412" r="2.1" fill="#FF2200"/>
<circle cx="106.6" cy="394.5" r="2.1" fill="#FF2200"/>
<circle cx="133.3" cy="405.6" r="2.1" fill="#FF2200"/>
<circle cx="160" cy="421" r="2.1" fill="#FF2200"/>
<circle cx="186.6" cy="425.2" r="2.1" fill="#FF2200"/>
<line x1="210.8" y1="393.9" x2="225.1" y2="393.9" stroke="#00B050" stroke-width="1.55"/>
<path d="M217.95 391.9L219.15 393.9L217.95 395.9L216.75 393.9Z" fill="#00B050"/>
<text x="226.7" y="396.2" font-size="6.4" text-anchor="start" fill="#000" stroke="#000" stroke-width="0.12" font-family='"Liberation Sans", sans-serif' textLength="18.7" lengthAdjust="spacingAndGlyphs">Cardio</text>
<line x1="210.8" y1="406.6" x2="225.1" y2="406.6" stroke="#FFBC00" stroke-width="1.55"/>
<rect x="215.85" y="404.5" width="4.2" height="4.2" fill="#FFBC00"/>
<text x="226.7" y="408.9" font-size="6.4" text-anchor="start" fill="#000" stroke="#000" stroke-width="0.12" font-family='"Liberation Sans", sans-serif' textLength="32.5" lengthAdjust="spacingAndGlyphs">Credit Card</text>
<line x1="210.8" y1="419.6" x2="225.1" y2="419.6" stroke="#2A7F9C" stroke-width="1.55"/>
<path d="M217.95 417.33L220.05 421.11L215.85 421.11Z" fill="#2A7F9C"/>
<text x="226.7" y="421.9" font-size="6.4" text-anchor="start" fill="#000" stroke="#000" stroke-width="0.12" font-family='"Liberation Sans", sans-serif' textLength="23.5" lengthAdjust="spacingAndGlyphs">Satellite</text>
<line x1="210.8" y1="432.3" x2="225.1" y2="432.3" stroke="#FF3399" stroke-width="1.55"/>
<circle cx="217.95" cy="432.3" r="2" fill="#FF3399"/>
<text x="226.7" y="434.6" font-size="6.4" text-anchor="start" fill="#000" stroke="#000" stroke-width="0.12" font-family='"Liberation Sans", sans-serif' textLength="17.6" lengthAdjust="spacingAndGlyphs">MUSK</text>
<line x1="210.8" y1="445" x2="225.1" y2="445" stroke="#FF2200" stroke-width="1.55"/>
<circle cx="217.95" cy="445" r="2.1" fill="#FF2200"/>
<text x="226.7" y="447.3" font-size="6.4" text-anchor="start" fill="#000" stroke="#000" stroke-width="0.12" font-family='"Liberation Sans", sans-serif' textLength="32.7" lengthAdjust="spacingAndGlyphs">Arrhythmia</text>
<text x="122.8" y="497.9" font-size="12.8" fill="#000" stroke="#000" stroke-width="0.15" font-family='"Liberation Serif", serif' textLength="12.2" lengthAdjust="spacingAndGlyphs">(<tspan font-weight="bold" stroke-width="0.35">e</tspan>)</text>
<text x="141" y="497.9" font-size="10.5" fill="#111" font-style="italic" font-family='"Liberation Serif", serif' textLength="6.7" lengthAdjust="spacingAndGlyphs">λ</text>
<rect x="283.5" y="364.6" width="259.8" height="112.2" fill="none" stroke="#A0A0A0" stroke-width="1.3"/>
<line x1="306.4" y1="373.5" x2="480.8" y2="373.5" stroke="#969696" stroke-width="1"/>
<text x="299.2" y="376.13" font-size="7.3" text-anchor="end" fill="#000" stroke="#000" stroke-width="0.15" font-family='"Liberation Sans", sans-serif'>1</text>
<line x1="303.9" y1="373.5" x2="306.4" y2="373.5" stroke="#969696" stroke-width="1"/>
<line x1="306.4" y1="394.35" x2="480.8" y2="394.35" stroke="#969696" stroke-width="1"/>
<text x="299.2" y="396.98" font-size="7.3" text-anchor="end" fill="#000" stroke="#000" stroke-width="0.15" font-family='"Liberation Sans", sans-serif'>0.9</text>
<line x1="303.9" y1="394.35" x2="306.4" y2="394.35" stroke="#969696" stroke-width="1"/>
<line x1="306.4" y1="415.2" x2="480.8" y2="415.2" stroke="#969696" stroke-width="1"/>
<text x="299.2" y="417.83" font-size="7.3" text-anchor="end" fill="#000" stroke="#000" stroke-width="0.15" font-family='"Liberation Sans", sans-serif'>0.8</text>
<line x1="303.9" y1="415.2" x2="306.4" y2="415.2" stroke="#969696" stroke-width="1"/>
<line x1="306.4" y1="436.05" x2="480.8" y2="436.05" stroke="#969696" stroke-width="1"/>
<text x="299.2" y="438.68" font-size="7.3" text-anchor="end" fill="#000" stroke="#000" stroke-width="0.15" font-family='"Liberation Sans", sans-serif'>0.7</text>
<line x1="303.9" y1="436.05" x2="306.4" y2="436.05" stroke="#969696" stroke-width="1"/>
<text x="299.2" y="459.53" font-size="7.3" text-anchor="end" fill="#000" stroke="#000" stroke-width="0.15" font-family='"Liberation Sans", sans-serif'>0.6</text>
<line x1="303.9" y1="456.9" x2="306.4" y2="456.9" stroke="#969696" stroke-width="1"/>
<line x1="306.4" y1="373.5" x2="306.4" y2="456.9" stroke="#969696" stroke-width="1"/>
<line x1="306.4" y1="456.9" x2="480.8" y2="456.9" stroke="#969696" stroke-width="1"/>
<line x1="306.4" y1="456.9" x2="306.4" y2="459.9" stroke="#969696" stroke-width="1"/>
<line x1="335.47" y1="456.9" x2="335.47" y2="459.9" stroke="#969696" stroke-width="1"/>
<line x1="364.53" y1="456.9" x2="364.53" y2="459.9" stroke="#969696" stroke-width="1"/>
<line x1="393.6" y1="456.9" x2="393.6" y2="459.9" stroke="#969696" stroke-width="1"/>
<line x1="422.67" y1="456.9" x2="422.67" y2="459.9" stroke="#969696" stroke-width="1"/>
<line x1="451.73" y1="456.9" x2="451.73" y2="459.9" stroke="#969696" stroke-width="1"/>
<line x1="480.8" y1="456.9" x2="480.8" y2="459.9" stroke="#969696" stroke-width="1"/>
<text x="320.9" y="470.13" font-size="7.3" text-anchor="middle" fill="#000" stroke="#000" stroke-width="0.12" font-family='"Liberation Sans", sans-serif'>0%</text>
<text x="350" y="470.13" font-size="7.3" text-anchor="middle" fill="#000" stroke="#000" stroke-width="0.12" font-family='"Liberation Sans", sans-serif'>0.50%</text>
<text x="379.1" y="470.13" font-size="7.3" text-anchor="middle" fill="#000" stroke="#000" stroke-width="0.12" font-family='"Liberation Sans", sans-serif'>1%</text>
<text x="408.1" y="470.13" font-size="7.3" text-anchor="middle" fill="#000" stroke="#000" stroke-width="0.12" font-family='"Liberation Sans", sans-serif'>2%</text>
<text x="437.1" y="470.13" font-size="7.3" text-anchor="middle" fill="#000" stroke="#000" stroke-width="0.12" font-family='"Liberation Sans", sans-serif'>3%</text>
<text x="466.2" y="470.13" font-size="7.3" text-anchor="middle" fill="#000" stroke="#000" stroke-width="0.12" font-family='"Liberation Sans", sans-serif'>4%</text>
<polyline points="320.9,391.8 350,394.1 379.1,408.3 408.1,422.7 437.1,437.4 466.2,443.5" fill="none" stroke="#FFBC00" stroke-width="1.55" stroke-linejoin="round"/>
<path d="M320.9 389L323.7 391.8L320.9 394.6L318.1 391.8Z" fill="#FFBC00"/>
<path d="M350 391.3L352.8 394.1L350 396.9L347.2 394.1Z" fill="#FFBC00"/>
<path d="M379.1 405.5L381.9 408.3L379.1 411.1L376.3 408.3Z" fill="#FFBC00"/>
<path d="M408.1 419.9L410.9 422.7L408.1 425.5L405.3 422.7Z" fill="#FFBC00"/>
<path d="M437.1 434.6L439.9 437.4L437.1 440.2L434.3 437.4Z" fill="#FFBC00"/>
<path d="M466.2 440.7L469 443.5L466.2 446.3L463.4 443.5Z" fill="#FFBC00"/>
<polyline points="320.9,383.3 350,392.1 379.1,404.4 408.1,417 437.1,431.2 466.2,436.9" fill="none" stroke="#009600" stroke-width="1.55" stroke-linejoin="round"/>
<rect x="318.7" y="381.1" width="4.4" height="4.4" fill="#009600"/>
<rect x="347.8" y="389.9" width="4.4" height="4.4" fill="#009600"/>
<rect x="376.9" y="402.2" width="4.4" height="4.4" fill="#009600"/>
<rect x="405.9" y="414.8" width="4.4" height="4.4" fill="#009600"/>
<rect x="434.9" y="429" width="4.4" height="4.4" fill="#009600"/>
<rect x="464" y="434.7" width="4.4" height="4.4" fill="#009600"/>
<polyline points="320.9,380.2 350,384.9 379.1,393.1 408.1,399.5 437.1,405.5 466.2,413.7" fill="none" stroke="#FF2200" stroke-width="1.55" stroke-linejoin="round"/>
<path d="M320.9 377.82L323.1 381.78L318.7 381.78Z" fill="#FF2200"/>
<path d="M350 382.52L352.2 386.48L347.8 386.48Z" fill="#FF2200"/>
<path d="M379.1 390.72L381.3 394.68L376.9 394.68Z" fill="#FF2200"/>
<path d="M408.1 397.12L410.3 401.08L405.9 401.08Z" fill="#FF2200"/>
<path d="M437.1 403.12L439.3 407.08L434.9 407.08Z" fill="#FF2200"/>
<path d="M466.2 411.32L468.4 415.28L464 415.28Z" fill="#FF2200"/>
<polyline points="320.9,375.1 350,379.5 379.1,383.8 408.1,392.1 437.1,392.1 466.2,398" fill="none" stroke="#2A7F9C" stroke-width="1.55" stroke-linejoin="round"/>
<circle cx="320.9" cy="375.1" r="2.2" fill="#2A7F9C"/>
<circle cx="350" cy="379.5" r="2.2" fill="#2A7F9C"/>
<circle cx="379.1" cy="383.8" r="2.2" fill="#2A7F9C"/>
<circle cx="408.1" cy="392.1" r="2.2" fill="#2A7F9C"/>
<circle cx="437.1" cy="392.1" r="2.2" fill="#2A7F9C"/>
<circle cx="466.2" cy="398" r="2.2" fill="#2A7F9C"/>
<line x1="492.7" y1="398.8" x2="508.8" y2="398.8" stroke="#FFBC00" stroke-width="1.55"/>
<path d="M500.75 396L503.55 398.8L500.75 401.6L497.95 398.8Z" fill="#FFBC00"/>
<text x="510.4" y="401.25" font-size="6.8" text-anchor="start" fill="#000" stroke="#000" stroke-width="0.12" font-family='"Liberation Sans", sans-serif' textLength="13.2" lengthAdjust="spacingAndGlyphs">PCA</text>
<line x1="492.7" y1="413.5" x2="508.8" y2="413.5" stroke="#009600" stroke-width="1.55"/>
<rect x="498.55" y="411.3" width="4.4" height="4.4" fill="#009600"/>
<text x="510.4" y="415.95" font-size="6.8" text-anchor="start" fill="#000" stroke="#000" stroke-width="0.12" font-family='"Liberation Sans", sans-serif' textLength="25.1" lengthAdjust="spacingAndGlyphs">OCSVM</text>
<line x1="492.7" y1="428.2" x2="508.8" y2="428.2" stroke="#FF2200" stroke-width="1.55"/>
<path d="M500.75 425.82L502.95 429.78L498.55 429.78Z" fill="#FF2200"/>
<text x="510.4" y="430.65" font-size="6.8" text-anchor="start" fill="#000" stroke="#000" stroke-width="0.12" font-family='"Liberation Sans", sans-serif' textLength="8.7" lengthAdjust="spacingAndGlyphs">AE</text>
<line x1="492.7" y1="442.9" x2="508.8" y2="442.9" stroke="#2A7F9C" stroke-width="1.55"/>
<circle cx="500.75" cy="442.9" r="2.2" fill="#2A7F9C"/>
<text x="510.4" y="445.35" font-size="6.8" text-anchor="start" fill="#000" stroke="#000" stroke-width="0.12" font-family='"Liberation Sans", sans-serif' textLength="18.9" lengthAdjust="spacingAndGlyphs">VAGA</text>
<text x="354.7" y="497.6" font-size="12.8" fill="#000" stroke="#000" stroke-width="0.15" font-family='"Liberation Serif", serif' textLength="11" lengthAdjust="spacingAndGlyphs">(<tspan font-weight="bold" stroke-width="0.35">f</tspan>)</text>
<text x="371.8" y="497.6" font-size="12.8" fill="#111" stroke="#111" stroke-width="0.15" font-family='"Liberation Serif", serif' textLength="98.5" lengthAdjust="spacingAndGlyphs">Data pollution rate</text>
</g></svg></div>
</body></html>
